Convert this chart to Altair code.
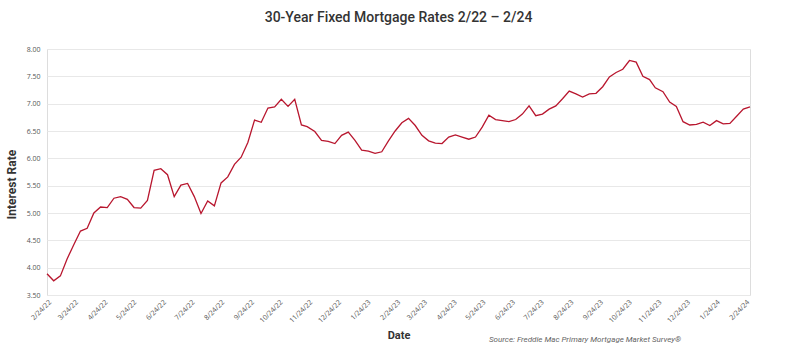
import altair as alt
import pandas as pd

dates = [
    "2022-02-24", "2022-03-03", "2022-03-10", "2022-03-17", "2022-03-24", "2022-03-31",
    "2022-04-07", "2022-04-14", "2022-04-21", "2022-04-28", "2022-05-05", "2022-05-12",
    "2022-05-19", "2022-05-26", "2022-06-02", "2022-06-09", "2022-06-16", "2022-06-23",
    "2022-06-30", "2022-07-07", "2022-07-14", "2022-07-21", "2022-07-28", "2022-08-04",
    "2022-08-11", "2022-08-18", "2022-08-25", "2022-09-01", "2022-09-08", "2022-09-15",
    "2022-09-22", "2022-09-29", "2022-10-06", "2022-10-13", "2022-10-20", "2022-10-27",
    "2022-11-03", "2022-11-10", "2022-11-17", "2022-11-23", "2022-12-01", "2022-12-08",
    "2022-12-15", "2022-12-22", "2022-12-29", "2023-01-05", "2023-01-12", "2023-01-19",
    "2023-01-26", "2023-02-02", "2023-02-09", "2023-02-16", "2023-02-23", "2023-03-02",
    "2023-03-09", "2023-03-16", "2023-03-23", "2023-03-30", "2023-04-06", "2023-04-13",
    "2023-04-20", "2023-04-27", "2023-05-04", "2023-05-11", "2023-05-18", "2023-05-25",
    "2023-06-01", "2023-06-08", "2023-06-15", "2023-06-22", "2023-06-29", "2023-07-06",
    "2023-07-13", "2023-07-20", "2023-07-27", "2023-08-03", "2023-08-10", "2023-08-17",
    "2023-08-24", "2023-08-31", "2023-09-07", "2023-09-14", "2023-09-21", "2023-09-28",
    "2023-10-05", "2023-10-12", "2023-10-19", "2023-10-26", "2023-11-02", "2023-11-09",
    "2023-11-16", "2023-11-22", "2023-11-30", "2023-12-07", "2023-12-14", "2023-12-21",
    "2023-12-28", "2024-01-04", "2024-01-11", "2024-01-18", "2024-01-25", "2024-02-01",
    "2024-02-08", "2024-02-15", "2024-02-22", "2024-02-29",
]

rates = [
    3.89, 3.76, 3.85, 4.16, 4.42, 4.67,
    4.72, 5.00, 5.11, 5.10, 5.27, 5.30,
    5.25, 5.10, 5.09, 5.23, 5.78, 5.81,
    5.70, 5.30, 5.51, 5.54, 5.30, 4.99,
    5.22, 5.13, 5.55, 5.66, 5.89, 6.02,
    6.29, 6.70, 6.66, 6.92, 6.94, 7.08,
    6.95, 7.08, 6.61, 6.58, 6.49, 6.33,
    6.31, 6.27, 6.42, 6.48, 6.33, 6.15,
    6.13, 6.09, 6.12, 6.32, 6.50, 6.65,
    6.73, 6.60, 6.42, 6.32, 6.28, 6.27,
    6.39, 6.43, 6.39, 6.35, 6.39, 6.57,
    6.79, 6.71, 6.69, 6.67, 6.71, 6.81,
    6.96, 6.78, 6.81, 6.90, 6.96, 7.09,
    7.23, 7.18, 7.12, 7.18, 7.19, 7.31,
    7.49, 7.57, 7.63, 7.79, 7.76, 7.50,
    7.44, 7.29, 7.22, 7.03, 6.95, 6.67,
    6.61, 6.62, 6.66, 6.60, 6.69, 6.63,
    6.64, 6.77, 6.90, 6.94,
]

tick_dates = [
    "2022-02-24", "2022-03-24", "2022-04-24", "2022-05-24", "2022-06-24", "2022-07-24",
    "2022-08-24", "2022-09-24", "2022-10-24", "2022-11-24", "2022-12-24", "2023-01-24",
    "2023-02-24", "2023-03-24", "2023-04-24", "2023-05-24", "2023-06-24", "2023-07-24",
    "2023-08-24", "2023-09-24", "2023-10-24", "2023-11-24", "2023-12-24", "2024-01-24",
    "2024-02-24",
]
y_ticks = [3.5, 4.0, 4.5, 5.0, 5.5, 6.0, 6.5, 7.0, 7.5, 8.0]

title_text = "30-Year Fixed Mortgage Rates 2/22 – 2/24"
source_text = "Source: Freddie Mac Primary Mortgage Market Survey®"


def ms(d):
    return int(pd.Timestamp(d).value // 10**6)


df = pd.DataFrame({"date": dates, "rate": rates})

x_axis = alt.Axis(
    values=[ms(d) for d in tick_dates],
    format="%-m/%-d/%y",
    labelAngle=-45,
    labelAlign="right",
    labelBaseline="top",
    labelFont="Open Sans",
    labelFontSize=7,
    labelColor="#555555",
    labelPadding=3,
    labelOverlap=False,
    labelFlush=False,
    ticks=False,
    domain=False,
    grid=False,
    title="Date",
    titleFont="Roboto",
    titleFontWeight="bold",
    titleFontSize=11,
    titleColor="#333333",
    titleY=43,
    titleBaseline="alphabetic",
)

y_axis = alt.Axis(
    values=y_ticks,
    format=".2f",
    labelFont="Open Sans",
    labelFontSize=7,
    labelColor="#555555",
    labelPadding=7,
    ticks=False,
    domain=False,
    grid=True,
    gridColor="#e8e8e8",
    gridWidth=1,
    title="Interest Rate",
    titleFont="Roboto",
    titleFontWeight="bold",
    titleFontSize=12,
    titleColor="#333333",
    titleX=-29,
    titleY=135,
    titleBaseline="bottom",
)

line = alt.Chart(df).mark_line(color="#b8162e", strokeWidth=1.3).encode(
    x=alt.X(
        "date:T",
        scale=alt.Scale(type="utc", domain=[ms("2022-02-24"), ms("2024-02-29")]),
        axis=x_axis,
    ),
    y=alt.Y("rate:Q", scale=alt.Scale(domain=[3.5, 8.0], nice=False, zero=False), axis=y_axis),
)

source = alt.Chart(pd.DataFrame({"t": [source_text]})).mark_text(
    font="Roboto",
    fontStyle="italic",
    fontSize=8,
    color="#666666",
    align="center",
    baseline="alphabetic",
).encode(text="t:N", x=alt.value(538), y=alt.value(293))

chart = (
    alt.layer(line, source)
    .properties(
        width=703,
        height=246,
        title=alt.TitleParams(
            title_text,
            font="Roboto",
            fontSize=14,
            fontWeight=500,
            color="#333333",
            anchor="middle",
            offset=20,
        ),
        autosize=alt.AutoSizeParams(type="none"),
        padding={"left": 47, "top": 49, "right": 50, "bottom": 55},
    )
    .configure_view(stroke=None)
    .configure(background="white")
)

chart.save("out.html", embed_options={"renderer": "svg", "actions": False})
